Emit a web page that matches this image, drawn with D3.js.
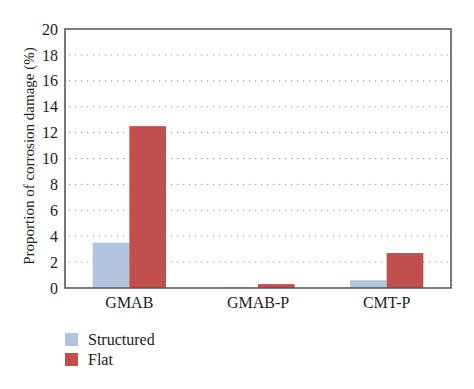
<!DOCTYPE html>
<html><head><meta charset="utf-8">
<script src="https://cdn.jsdelivr.net/npm/d3@7"></script>
<style>body{margin:0;background:#fff}svg{display:block}</style>
</head><body>
<svg id="c" width="474" height="389"></svg>
<script>
const categories = ["GMAB", "GMAB-P", "CMT-P"];
const seriesNames = ["Structured", "Flat"];
const structured = [3.5, 0.05, 0.6];
const flat = [12.5, 0.3, 2.7];
const yTicks = [0, 2, 4, 6, 8, 10, 12, 14, 16, 18, 20];
const colors = ["#b3c5de", "#c0504d"];

const svg = d3.select("#c");
const m = {l: 65, t: 29, r: 451, b: 288};
const font = "'Liberation Serif', 'DejaVu Serif', serif";
const fs = 16;

const x = d3.scaleBand().domain(categories).range([m.l, m.r]).paddingInner(0.43).paddingOuter(0.215);
const xs = d3.scaleBand().domain(seriesNames).range([0, x.bandwidth()]);
const y = d3.scaleLinear().domain([0, 20]).range([m.b, m.t]);

// grid
svg.append("g").selectAll("line").data(yTicks.filter(d => d > 0 && d < 20)).join("line")
  .attr("x1", m.l + 4).attr("x2", m.r).attr("y1", d => y(d)).attr("y2", d => y(d))
  .attr("stroke", "#8a8a8a").attr("stroke-width", 1).attr("stroke-dasharray", "1.2,4.8");

// bars
const data = categories.map((c, i) => ({c, vals: [structured[i], flat[i]]}));
svg.append("g").selectAll("g").data(data).join("g")
  .attr("transform", d => `translate(${x(d.c)},0)`)
  .selectAll("rect").data(d => d.vals.map((v, j) => ({v, s: seriesNames[j], j}))).join("rect")
  .attr("x", d => xs(d.s)).attr("width", xs.bandwidth())
  .attr("y", d => y(d.v)).attr("height", d => y(0) - y(d.v))
  .attr("fill", d => colors[d.j]);

// frame
svg.append("path")
  .attr("d", `M${m.l},${m.b}V${m.t}H${m.r}V${m.b}Z`)
  .attr("fill", "none").attr("stroke", "#555").attr("stroke-width", 1.6);

// y axis
const ya = svg.append("g").attr("transform", `translate(${m.l},0)`)
  .call(d3.axisLeft(y).tickValues(yTicks).tickSize(0).tickPadding(7));
ya.select(".domain").remove();
ya.selectAll("text").attr("font-family", font).attr("font-size", fs).attr("fill", "#222");

// x axis
const xa = svg.append("g").attr("transform", `translate(0,${m.b})`)
  .call(d3.axisBottom(x).tickSize(0).tickPadding(8.5));
xa.select(".domain").remove();
xa.selectAll("text").attr("font-family", font).attr("font-size", fs).attr("fill", "#222");

// y title
svg.append("text").attr("transform", `translate(34,156) rotate(-90)`)
  .attr("text-anchor", "middle").attr("font-family", font).attr("font-size", 15).attr("fill", "#222")
  .text("Proportion of corrosion damage (%)");

// legend
const lg = svg.append("g").selectAll("g").data(seriesNames).join("g")
  .attr("transform", (d, i) => `translate(65,${333 + i * 20})`);
lg.append("rect").attr("width", 13).attr("height", 13).attr("fill", (d, i) => colors[i]);
lg.append("text").attr("x", 23).attr("y", 11.5).attr("font-family", font).attr("font-size", fs).attr("fill", "#222").text(d => d);
</script>
</body></html>
